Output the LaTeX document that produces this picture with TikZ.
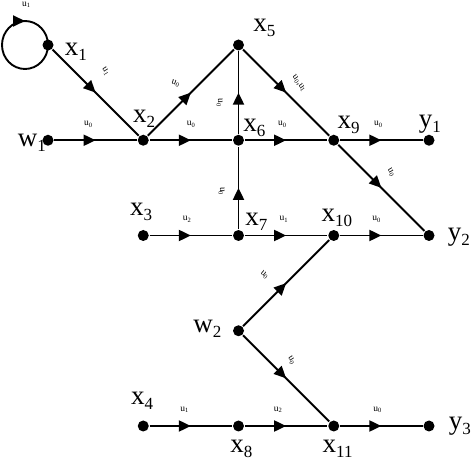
\documentclass[tikz,border=0pt]{standalone}
\usepackage{fontspec}
\setmainfont{Liberation Serif}
\usetikzlibrary{arrows.meta, decorations.markings}
\newcommand{\vn}[2]{#1\raisebox{-5pt}{\fontsize{17}{17}\selectfont #2}}
\newcommand{\un}[1]{u\raisebox{-1.5pt}{\fontsize{6.5}{6.5}\selectfont #1}}

\begin{document}
\begin{tikzpicture}[x=95.25pt,y=-95.25pt,line width=1.9pt,
    dot/.style={circle,fill,inner sep=0pt,minimum size=11pt},
    vlabel/.style={inner sep=0pt,anchor=base west,font=\fontsize{27}{30}\selectfont},
    elab/.style={inner sep=0pt,font=\fontsize{9.5}{10}\selectfont},
    arr/.style={postaction={decorate},decoration={markings,
        mark=at position #1 with {\arrow{Triangle[length=12pt,width=11pt]}}}},
    arr/.default=0.5]
    \useasboundingbox (-0.504,-0.4724) rectangle (4.4724,4.3885);

    \node[dot] at (0,0) (x1)  {};
    \node[dot] at (0,1) (w1)  {};
    \node[dot] at (1,1) (x2)  {};
    \node[dot] at (2,0) (x5)  {};
    \node[dot] at (2,1) (x6)  {};
    \node[dot] at (3,1) (x9)  {};
    \node[dot] at (4,1) (y1)  {};
    \node[dot] at (1,2) (x3)  {};
    \node[dot] at (2,2) (x7)  {};
    \node[dot] at (3,2) (x10) {};
    \node[dot] at (4,2) (y2)  {};
    \node[dot] at (2,3) (w2)  {};
    \node[dot] at (1,4) (x4)  {};
    \node[dot] at (2,4) (x8)  {};
    \node[dot] at (3,4) (x11) {};
    \node[dot] at (4,4) (y3)  {};

    \node[vlabel] at ([shift={(16pt,-11pt)}]x1)  (x1-l)  {\vn{x}{1}};
    \node[vlabel] at ([shift={(-31pt,-6pt)}]w1)  (w1-l)  {\vn{w}{1}};
    \node[vlabel] at ([shift={(-11pt,18pt)}]x2)  (x2-l)  {\vn{x}{2}};
    \node[vlabel] at ([shift={(14pt,13pt)}]x5)   (x5-l)  {\vn{x}{5}};
    \node[vlabel] at ([shift={(4pt,9pt)}]x6)     (x6-l)  {\vn{x}{6}};
    \node[vlabel] at ([shift={(3pt,12pt)}]x9)    (x9-l)  {\vn{x}{9}};
    \node[vlabel] at ([shift={(-11pt,13pt)}]y1)  (y1-l)  {\vn{y}{1}};
    \node[vlabel] at ([shift={(-14pt,20pt)}]x3)  (x3-l)  {\vn{x}{3}};
    \node[vlabel] at ([shift={(6pt,10pt)}]x7)    (x7-l)  {\vn{x}{7}};
    \node[vlabel] at ([shift={(-13pt,14pt)}]x10) (x10-l) {\vn{x}{10}};
    \node[vlabel] at ([shift={(18pt,-5pt)}]y2)   (y2-l)  {\vn{y}{2}};
    \node[vlabel] at ([shift={(-46pt,-2pt)}]w2)  (w2-l)  {\vn{w}{2}};
    \node[vlabel] at ([shift={(-13pt,21pt)}]x4)  (x4-l)  {\vn{x}{4}};
    \node[vlabel] at ([shift={(-9pt,-27pt)}]x8)  (x8-l)  {\vn{x}{8}};
    \node[vlabel] at ([shift={(-12pt,-27pt)}]x11) (x11-l) {\vn{x}{11}};
    \node[vlabel] at ([shift={(19pt,-4pt)}]y3)   (y3-l)  {\vn{y}{3}};

    % self loop on x1
    \draw[arr=0.75] (x1.center) arc[start angle=0,end angle=-360,x radius=23pt,y radius=24pt]
        node[elab,pos=0.75,shift={(1pt,16pt)}] {\un{1}};

    \draw[arr] (x1) -- (x2) node[elab,pos=0.44,shift={(15pt,16pt)},rotate=-60] {\un{1}};
    \draw[arr] (w1) -- (x2) node[elab,pos=0.41,shift={(0pt,16pt)}] {\un{0}};
    \draw[arr] (x2) -- (x5) node[elab,pos=0.47,shift={(-13pt,12pt)},rotate=-20] {\un{0}};
    \draw[arr] (x2) -- (x6) node[elab,pos=0.5,shift={(0pt,16pt)}] {\un{0}};
    \draw[arr] (x6) -- (x5) node[elab,pos=0.38,shift={(-19pt,0pt)},rotate=-90] {\un{0}};
    \draw[arr] (x5) -- (x9) node[elab,pos=0.52,shift={(11pt,11pt)},rotate=-55] {\un{0},\un{1}};
    \draw[arr] (x6) -- (x9) node[elab,pos=0.45,shift={(0pt,16pt)}] {\un{0}};
    \draw[arr] (x9) -- (y1) node[elab,pos=0.46,shift={(0pt,16pt)}] {\un{0}};
    \draw[arr] (x9) -- (y2) node[elab,pos=0.46,shift={(13pt,12pt)},rotate=-60] {\un{0}};
    \draw[arr] (x7) -- (x6) node[elab,pos=0.46,shift={(-17pt,0pt)},rotate=-90] {\un{0}};
    \draw[arr] (x3) -- (x7) node[elab,pos=0.45,shift={(0pt,16pt)}] {\un{2}};
    \draw[arr] (x7) -- (x10) node[elab,pos=0.47,shift={(0pt,16pt)}] {\un{1}};
    \draw[arr] (x10) -- (y2) node[elab,pos=0.44,shift={(0pt,16pt)}] {\un{0}};
    \draw[arr] (w2) -- (x10) node[elab,pos=0.42,shift={(-15pt,15pt)},rotate=-40] {\un{0}};
    \draw[arr] (w2) -- (x11) node[elab,pos=0.42,shift={(12pt,11pt)},rotate=-60] {\un{0}};
    \draw[arr] (x4) -- (x8) node[elab,pos=0.42,shift={(0pt,16pt)}] {\un{1}};
    \draw[arr] (x8) -- (x11) node[elab,pos=0.4,shift={(0pt,16pt)}] {\un{2}};
    \draw[arr] (x11) -- (y3) node[elab,pos=0.45,shift={(0pt,16pt)}] {\un{0}};
\end{tikzpicture}
\end{document}
